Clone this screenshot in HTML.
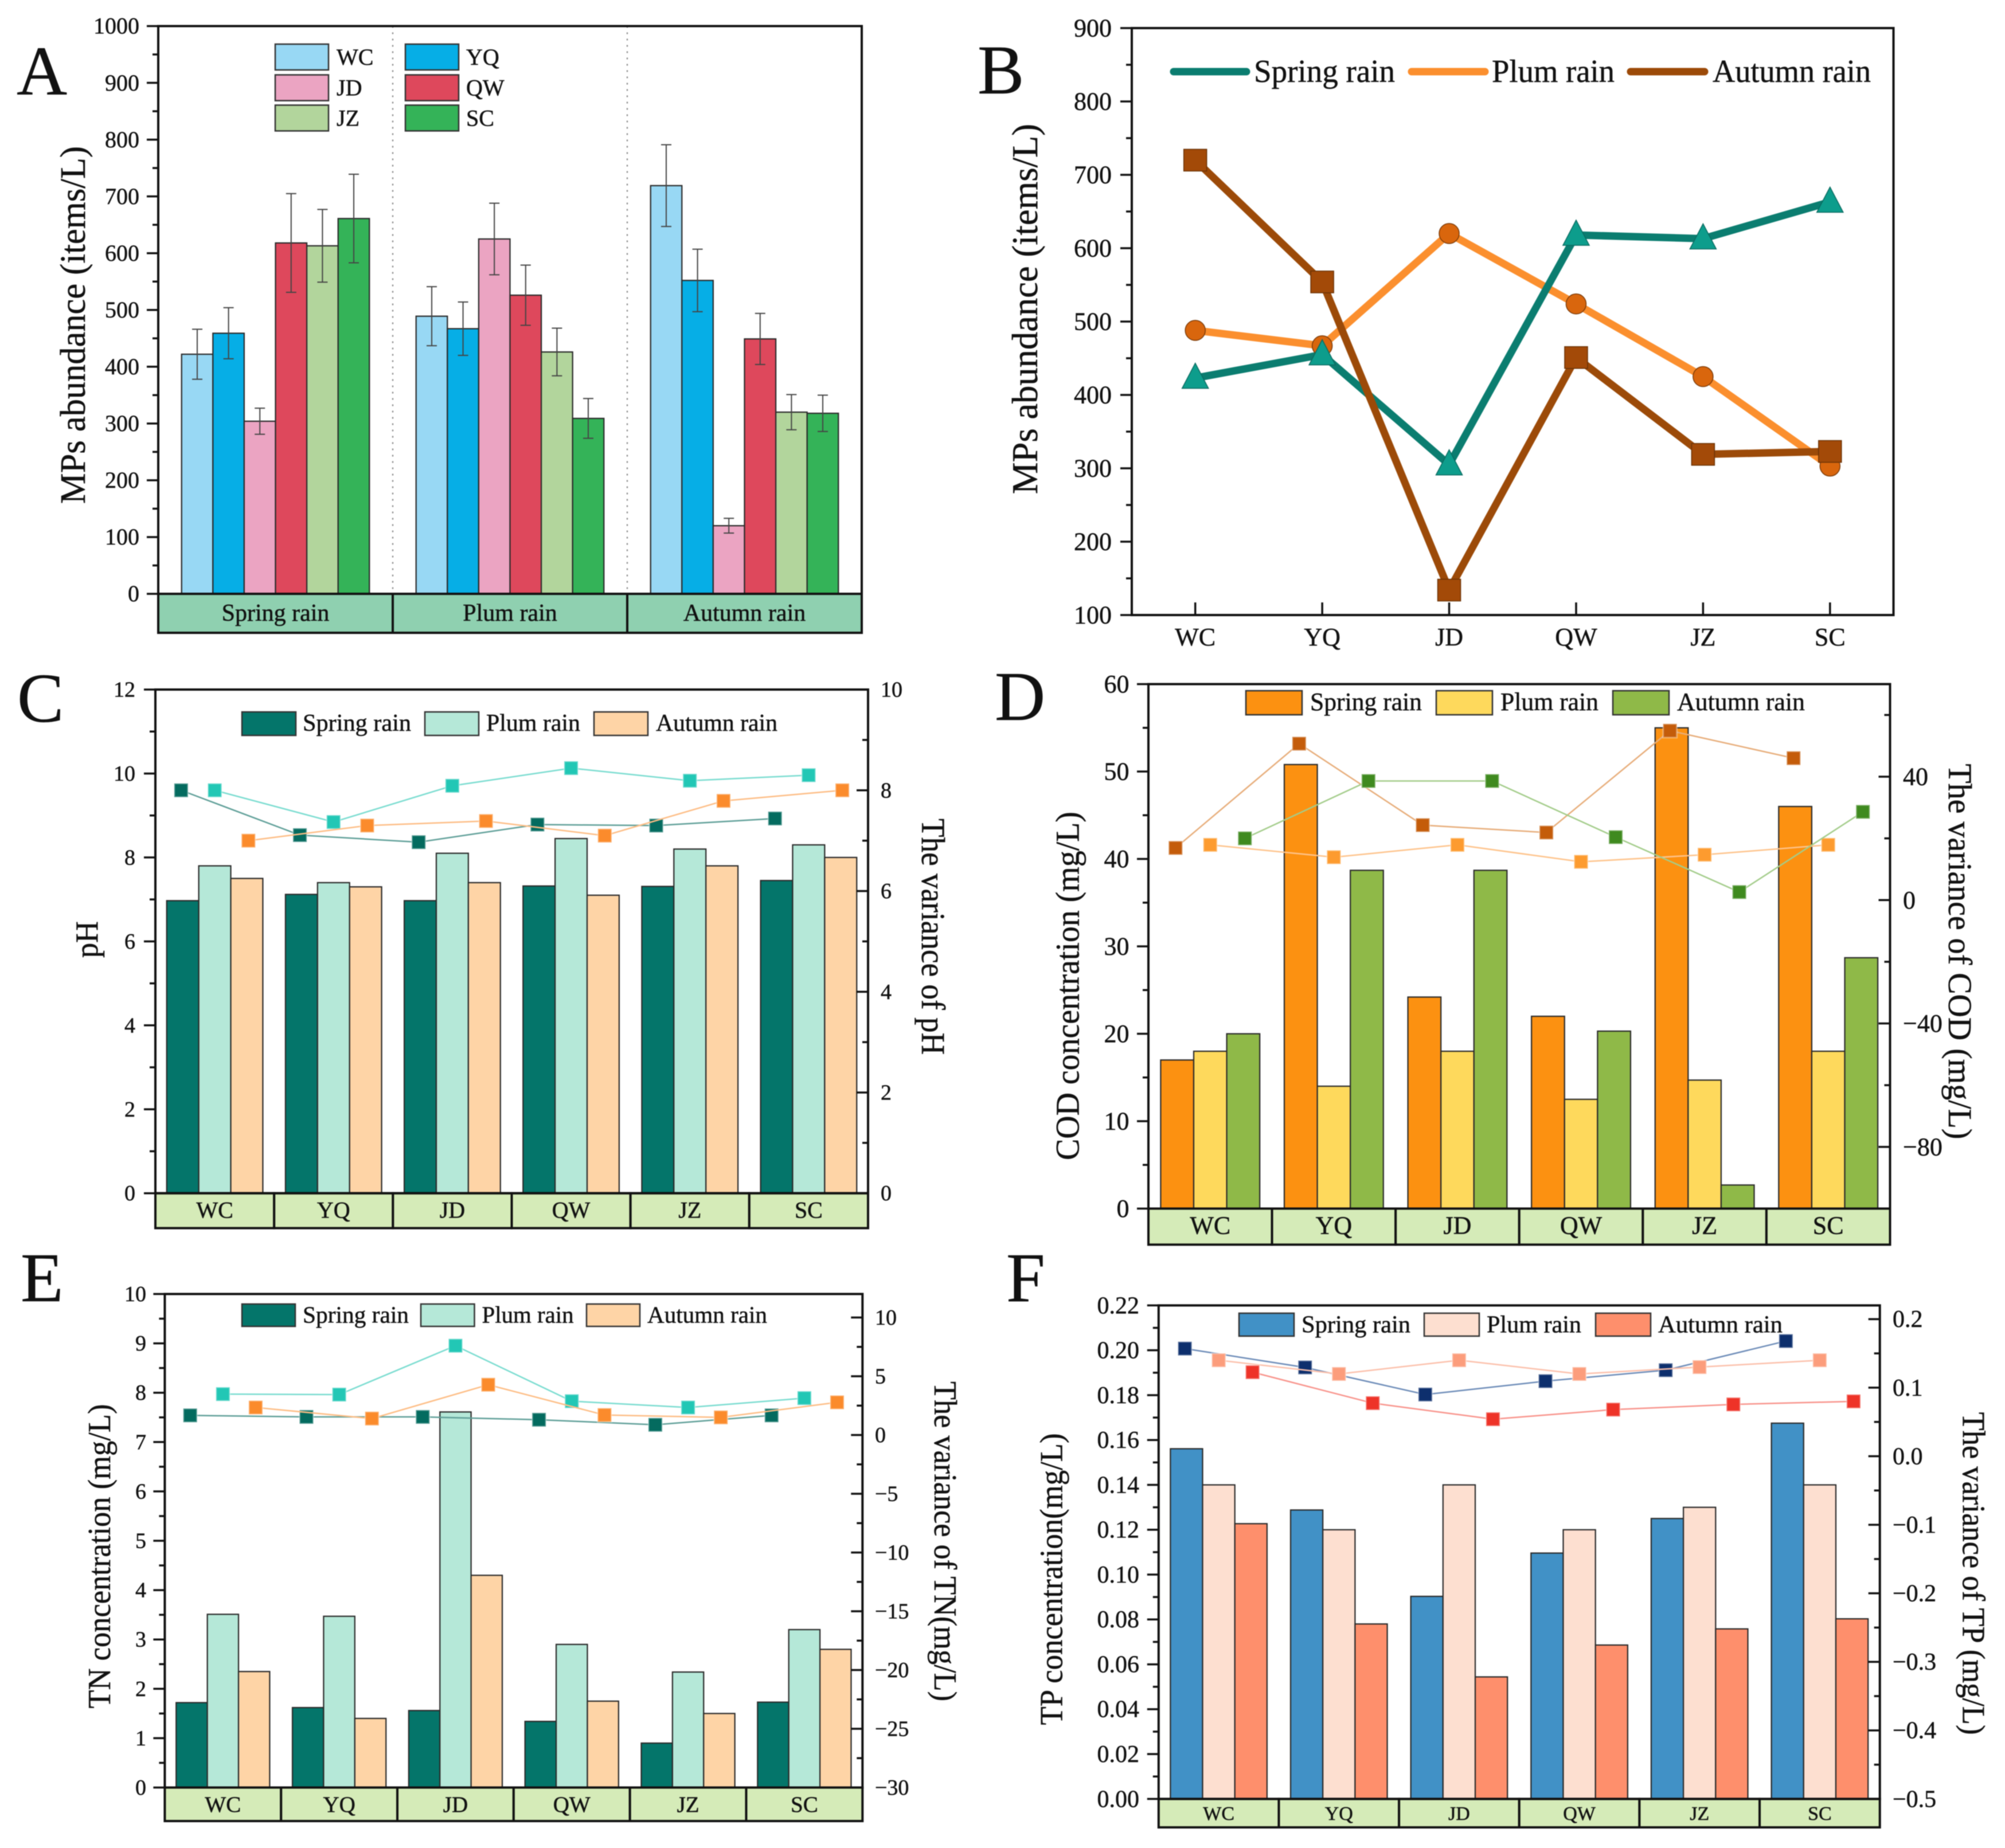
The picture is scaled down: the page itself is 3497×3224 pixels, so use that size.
<!DOCTYPE html>
<html lang="en">
<head>
<meta charset="utf-8">
<title>Rainfall microplastics and water quality panels</title>
<style>
html,body{margin:0;padding:0;background:#fff;}
svg{display:block;filter:blur(0.7px);}
text{font-family:"Liberation Serif",serif;fill:#111;stroke:#111;stroke-width:0.5px;}
</style>
</head>
<body>
<svg id="figure" xmlns="http://www.w3.org/2000/svg" width="3497" height="3224" viewBox="0 0 3497 3224">
<rect x="0" y="0" width="3497" height="3224" fill="#fff"/>
</svg>
<script>
/* ---------- shared categories ---------- */
const sites = ['WC','YQ','JD','QW','JZ','SC'];
const rains = ['Spring rain','Plum rain','Autumn rain'];

/* ---------- panel A data ---------- */
const aSpringMeans = [422,459,304,618,613,661];
const aSpringErrs  = [44,45,23,87,64,78];
const aPlumMeans   = [489,467,625,526,426,309];
const aPlumErrs    = [52,47,63,53,42,35];
const aAutumnMeans = [719,552,120,449,320,318];
const aAutumnErrs  = [72,55,13,45,31,32];
const aTicks = [0,100,200,300,400,500,600,700,800,900,1000];

/* ---------- panel B data ---------- */
const bSpring = [423,455,305,618,613,663];
const bPlum   = [488,467,620,524,425,303];
const bAutumn = [720,554,134,451,319,323];
const bTicks  = [100,200,300,400,500,600,700,800,900];

/* ---------- panel C data ---------- */
const cSpring = [6.97,7.12,6.97,7.32,7.31,7.45];
const cPlum   = [7.8,7.4,8.1,8.45,8.2,8.3];
const cAutumn = [7.5,7.3,7.4,7.1,7.8,8.0];
const cVarSpring = [8.0,7.11,6.97,7.32,7.3,7.44];
const cVarPlum   = [8.0,7.37,8.09,8.44,8.19,8.3];
const cVarAutumn = [7.0,7.3,7.39,7.1,7.79,8.0];
const cLeftTicks  = [0,2,4,6,8,10,12];
const cRightTicks = [0,2,4,6,8,10];

/* ---------- panel D data ---------- */
const dSpring = [17,50.8,24.2,22,55,46];
const dPlum   = [18,14,18,12.5,14.7,18];
const dAutumn = [20,38.7,38.7,20.3,2.7,28.7];
const dVarSpring = [16.9,50.7,24.3,21.9,54.9,46];
const dVarPlum   = [17.9,13.9,17.9,12.4,14.7,17.9];
const dVarAutumn = [20,38.6,38.6,20.4,2.6,28.6];
const dLeftTicks  = [0,10,20,30,40,50,60];
const dRightTicks = [-80,-40,0,40];

/* ---------- panel E data ---------- */
const eSpring = [1.72,1.62,1.56,1.34,0.9,1.73];
const ePlum   = [3.51,3.47,7.61,2.9,2.34,3.2];
const eAutumn = [2.35,1.4,4.3,1.75,1.5,2.8];
const eVarSpring = [1.67,1.54,1.54,1.3,0.87,1.67];
const eVarPlum   = [3.48,3.44,7.6,2.88,2.34,3.14];
const eVarAutumn = [2.34,1.4,4.28,1.7,1.5,2.78];
const eLeftTicks  = [0,1,2,3,4,5,6,7,8,9,10];
const eRightTicks = [-30,-25,-20,-15,-10,-5,0,5,10];

/* ---------- panel F data ---------- */
const fSpring = [0.1561,0.1288,0.0903,0.1096,0.125,0.1675];
const fPlum   = [0.14,0.12,0.14,0.12,0.13,0.14];
const fAutumn = [0.1227,0.078,0.0544,0.0686,0.0758,0.0803];
const fVarSpring = [0.157,0.1295,0.09,0.1095,0.1255,0.168];
const fVarPlum   = [0.14,0.12,0.14,0.12,0.13,0.14];
const fVarAutumn = [0.1226,0.0774,0.054,0.068,0.0756,0.08];
const fLeftTicks  = [0,0.02,0.04,0.06,0.08,0.10,0.12,0.14,0.16,0.18,0.20,0.22];
const fRightTicks = [-0.5,-0.4,-0.3,-0.2,-0.1,0,0.1,0.2];

/* ---------- helpers ---------- */
const NS = 'http://www.w3.org/2000/svg';
const root = document.getElementById('figure');
function mk(parent, tag, attrs, txt){
  const el = document.createElementNS(NS, tag);
  for (const k in attrs) el.setAttribute(k, attrs[k]);
  if (txt !== undefined) el.textContent = txt;
  parent.appendChild(el);
  return el;
}
function linear(d0, d1, p0, p1){ return v => p0 + (v - d0) * (p1 - p0) / (d1 - d0); }
function group(parent, name){
  const g = mk(parent, 'g', {});
  
  
  return g;
}
function label(parent, str, x, y, size, anchor, name, len){
  const a = {x:x, y:y, 'font-size':size, 'text-anchor':anchor};
  if (len) { a.textLength = len; a.lengthAdjust = 'spacingAndGlyphs'; }
  const el = mk(parent, 'text', a, str);
  
  
  return el;
}
function vTitle(parent, str, x, y, size, len, dir, name){
  const el = mk(parent, 'text', {
    x:0, y:0, 'font-size':size, 'text-anchor':'middle',
    textLength:len, lengthAdjust:'spacingAndGlyphs',
    transform:'translate(' + x + ',' + y + ') rotate(' + dir + ')'
  }, str);
  
  
  return el;
}
function panelLetter(str, x, y){
  const el = mk(root, 'text', {x:x, y:y, 'font-size':122}, str);
  
  
}
function tickLine(g, x1, y1, x2, y2, name){
  const el = mk(g, 'line', {x1:x1, y1:y1, x2:x2, y2:y2, stroke:'#111', 'stroke-width':3.5});
  
  
}
function fmt(v, digits){
  const s = digits ? Math.abs(v).toFixed(digits) : String(Math.abs(v));
  return (v < 0 ? '\u2212' : '') + s;
}
function axis(g, side, ticks, extraMinor, yScale, xPos, opts){
  const inward = side === 'right';
  const sign = -1;
  const minors = extraMinor.slice();
  for (let i = 0; i + 1 < ticks.length; i++) minors.push((ticks[i] + ticks[i + 1]) / 2);
  ticks.forEach(t => {
    tickLine(g, xPos, yScale(t), xPos + sign * 20, yScale(t), side + '-major-tick');
    label(g, fmt(t, opts.digits), opts.labelX, yScale(t) + opts.size * 0.33, opts.size, inward ? 'start' : 'end', side + '-tick-label');
  });
  minors.forEach(t => {
    tickLine(g, xPos, yScale(t), xPos + sign * 10, yScale(t), side + '-minor-tick');
  });
}
function legendBox(g, x, y, w, h, fill, name){
  const el = mk(g, 'rect', {x:x, y:y, width:w, height:h, fill:fill, stroke:'#333', 'stroke-width':2.5});
  
  
}
function frame(g, x, y, w, h){
  const el = mk(g, 'rect', {x:x, y:y, width:w, height:h, fill:'none', stroke:'#111', 'stroke-width':4});
  
  
}
function catBand(g, x0, x1, y0, y1, names, fill, size, base){
  const w = (x1 - x0) / names.length;
  names.forEach((n, i) => {
    const r = mk(g, 'rect', {x:x0 + i * w, y:y0, width:w, height:y1 - y0, fill:fill, stroke:'#111', 'stroke-width':4});
    
    
    label(g, n, x0 + (i + 0.5) * w, base, size, 'middle', 'category-label');
  });
}

/* ---------- panel A ---------- */
(function(){
  const g = group(root, 'panel-a');
  const L = 276, R = 1503, T = 45.5, B = 1036, CB = 1104;
  const y = linear(0, 1000, B, T);
  const colors = ['#98d8f4','#06aee6','#eba4c2','#de485c','#b2d59c','#34b358'];
  const means = [aSpringMeans, aPlumMeans, aAutumnMeans];
  const errs  = [aSpringErrs, aPlumErrs, aAutumnErrs];
  const bw = 54.6, band = (R - L) / 3;
  rains.forEach((r, gi) => {
    const c = L + (gi + 0.5) * band;
    sites.forEach((s, si) => {
      const x = c + (si - 3) * bw;
      const v = means[gi][si];
      const bar = mk(g, 'rect', {x:x, y:y(v), width:bw, height:B - y(v), fill:colors[si], stroke:'#2a2a2a', 'stroke-width':2.2});
      
      
    });
  });
  rains.forEach((r, gi) => {
    const c = L + (gi + 0.5) * band;
    sites.forEach((s, si) => {
      const cx = c + (si - 2.5) * bw;
      const v = means[gi][si], e = errs[gi][si];
      const path = 'M' + cx + ' ' + y(v + e) + 'V' + y(v - e) +
        'M' + (cx - 9) + ' ' + y(v + e) + 'H' + (cx + 9) +
        'M' + (cx - 9) + ' ' + y(v - e) + 'H' + (cx + 9);
      const eb = mk(g, 'path', {d:path, stroke:'#444', 'stroke-width':2, fill:'none'});
      
      
    });
  });
  for (let i = 1; i < 3; i++) {
    const d = mk(g, 'line', {x1:L + i * band, x2:L + i * band, y1:T, y2:B, stroke:'#888', 'stroke-width':2.2, 'stroke-dasharray':'3 8'});
    
    
  }
  catBand(g, L, R, B, CB, rains, '#8fd0b0', 42, 1083);
  frame(g, L, T, R - L, B - T);
  axis(g, 'left', aTicks, [], y, L, {labelX:243, size:40});
  vTitle(g, 'MPs abundance (items/L)', 148, 567, 62, 624, -90, 'y-axis-title');
  const rows = [77, 130.6, 183.4];
  sites.forEach((s, i) => {
    const col = i % 2, row = (i - col) / 2;
    legendBox(g, col ? 707 : 480, rows[row], 93, 45, colors[i], 'legend-swatch-' + s.toLowerCase());
    label(g, s, col ? 813 : 587, rows[row] + 36, 40, 'start', 'legend-label-' + s.toLowerCase());
  });
})();

/* ---------- panel B ---------- */
(function(){
  const g = group(root, 'panel-b');
  const L = 1974, R = 3302.5, T = 49, B = 1073;
  const y = linear(100, 900, B, T);
  const band = (R - L) / sites.length;
  const x = i => L + (i + 0.5) * band;
  const lineCols = ['#0b7d70','#fb8f2e','#9c4a08'];
  const series = [bSpring, bPlum, bAutumn];
  const order = [1, 0, 2];
  order.forEach(si => {
    const pts = series[si].map((v, i) => x(i) + ',' + y(v)).join(' ');
    const pl = mk(g, 'polyline', {points:pts, fill:'none', stroke:lineCols[si], 'stroke-width':13, 'stroke-linejoin':'round'});
    
    
  });
  bPlum.forEach((v, i) => {
    const m = mk(g, 'circle', {cx:x(i), cy:y(v), r:17.5, fill:'#d9660d', stroke:'#7a3a08', 'stroke-width':1.5});
    
    
  });
  bSpring.forEach((v, i) => {
    const cx = x(i), cy = y(v);
    const m = mk(g, 'polygon', {points:cx + ',' + (cy - 26) + ' ' + (cx - 23) + ',' + (cy + 18) + ' ' + (cx + 23) + ',' + (cy + 18), fill:'#0d9d8c', stroke:'#0a6a60', 'stroke-width':1.5});
    
    
  });
  bAutumn.forEach((v, i) => {
    const m = mk(g, 'rect', {x:x(i) - 20, y:y(v) - 19, width:40, height:38, fill:'#a34a08', stroke:'#6a3206', 'stroke-width':1.5});
    
    
  });
  frame(g, L, T, R - L, B - T);
  axis(g, 'left', bTicks, [], y, L, {labelX:1939, size:44});
  sites.forEach((s, i) => {
    tickLine(g, x(i), B, x(i), B - 22, 'x-tick');
    label(g, s, x(i), 1126, 44, 'middle', 'x-tick-label');
  });
  vTitle(g, 'MPs abundance (items/L)', 1809, 539, 64, 646, -90, 'y-axis-title');
  const lx = [[2047,2174,2187,246],[2462,2590,2602,214],[2844,2973,2987,276]];
  rains.forEach((r, i) => {
    const ll = mk(g, 'line', {x1:lx[i][0], x2:lx[i][1], y1:125, y2:125, stroke:lineCols[i], 'stroke-width':13, 'stroke-linecap':'round'});
    
    
    label(g, r, lx[i][2], 143, 56, 'start', 'legend-label-' + r.split(' ')[0].toLowerCase(), lx[i][3]);
  });
})();

/* ---------- combined bar + variance panels ---------- */
function drawCombo(c){
  const g = group(root, c.name);
  const yL = linear(c.leftDom[0], c.leftDom[1], c.B, c.T);
  const yR = linear(c.rightDom[0], c.rightDom[1], c.B, c.T);
  const band = (c.R - c.L) / sites.length;
  c.bars.forEach((arr, si) => {
    const rn = rains[si].split(' ')[0].toLowerCase();
    arr.forEach((v, i) => {
      const x = c.L + (i + 0.5) * band + (si - 1.5) * c.bw;
      const bar = mk(g, 'rect', {x:x, y:yL(v), width:c.bw, height:c.B - yL(v), fill:c.barCols[si], stroke:'#2a2a2a', 'stroke-width':2.2});
      
      
    });
  });
  c.vars.forEach((arr, si) => {
    const rn = rains[si].split(' ')[0].toLowerCase();
    const px = i => c.L + (i + 0.5) * band + (si - 1) * c.bw * 1.05;
    const pts = arr.map((v, i) => px(i) + ',' + yR(v)).join(' ');
    const pl = mk(g, 'polyline', {points:pts, fill:'none', stroke:c.lineCols[si], 'stroke-width':2.5});
    
    
    arr.forEach((v, i) => {
      const m = mk(g, 'rect', {x:px(i) - 12, y:yR(v) - 12, width:24, height:24, fill:c.markCols[si], stroke:'#fff', 'stroke-opacity':0.35, 'stroke-width':3});
      
      
    });
  });
  catBand(g, c.L, c.R, c.B, c.CB, sites, '#d5ebb8', c.catSize, c.catBase);
  frame(g, c.L, c.T, c.R - c.L, c.B - c.T);
  axis(g, 'left', c.leftTicks, [], yL, c.L, {labelX:c.leftLabelX, size:c.tickSize, digits:c.leftDigits});
  axis(g, 'right', c.rightTicks, c.rightExtra, yR, c.R, {labelX:c.rightLabelX, size:c.tickSize, digits:c.rightDigits});
  vTitle(g, c.leftTitle[0], c.leftTitle[1], c.leftTitle[2], c.leftTitle[3], c.leftTitle[4], -90, 'left-axis-title');
  vTitle(g, c.rightTitle[0], c.rightTitle[1], c.rightTitle[2], c.rightTitle[3], c.rightTitle[4], 90, 'right-axis-title');
  rains.forEach((r, i) => {
    const l = c.legend[i], rn = r.split(' ')[0].toLowerCase();
    legendBox(g, l[0], c.legendY, l[1], c.legendH, c.barCols[i], 'legend-swatch-' + rn);
    label(g, r, l[2], c.legendBase, c.legendSize, 'start', 'legend-label-' + rn, l[3]);
  });
}

drawCombo({
  name:'panel-c', L:271, R:1514, T:1203, B:2081.7, CB:2142.6, bw:55.9,
  leftDom:[0,12], rightDom:[0,10], leftTicks:cLeftTicks, rightTicks:cRightTicks, rightExtra:[],
  bars:[cSpring,cPlum,cAutumn], vars:[cVarSpring,cVarPlum,cVarAutumn],
  barCols:['#04756a','#b5e8d8','#fed4a6'], lineCols:['#5f9f98','#7adcd0','#fdbd85'], markCols:['#046b5f','#22c7b5','#fb8b2c'],
  catSize:40, catBase:2124.5, tickSize:38, leftLabelX:236, rightLabelX:1536,
  leftTitle:['pH',170,1639,56,64], rightTitle:['The variance of pH',1608,1634,58,412],
  legend:[[422,94,528,189],[741,94,848,164],[1036,94,1144,212]], legendY:1242, legendH:41, legendBase:1275, legendSize:42
});
drawCombo({
  name:'panel-d', L:2003, R:3296.5, T:1193.5, B:2108.5, CB:2171.4, bw:57.6,
  leftDom:[0,60], rightDom:[-100,70], leftTicks:dLeftTicks, rightTicks:dRightTicks, rightExtra:[-100,60],
  bars:[dSpring,dPlum,dAutumn], vars:[dVarSpring,dVarPlum,dVarAutumn],
  barCols:['#fc9111','#fed95c','#8fb948'], lineCols:['#e7ad7a','#fec38b','#a3cc8a'], markCols:['#c45c0a','#fd9b2f','#3f8a1f'],
  catSize:44, catBase:2152.7, tickSize:44, leftLabelX:1969.5, rightLabelX:3319,
  leftTitle:['COD concentration (mg/L)',1881.5,1720,58,608], rightTitle:['The variance of COD (mg/L)',3399,1660,58,655],
  legend:[[2173,98,2285,195],[2505,98,2617,171],[2813,98,2925,223]], legendY:1205, legendH:42, legendBase:1239, legendSize:44
});
drawCombo({
  name:'panel-e', L:287.4, R:1504.3, T:2257.5, B:3118.5, CB:3177, bw:54.4,
  leftDom:[0,10], rightDom:[-30,12], leftTicks:eLeftTicks, rightTicks:eRightTicks, rightExtra:[],
  bars:[eSpring,ePlum,eAutumn], vars:[eVarSpring,eVarPlum,eVarAutumn],
  barCols:['#04756a','#b5e8d8','#fed4a6'], lineCols:['#5f9f98','#7adcd0','#fdbd85'], markCols:['#046b5f','#22c7b5','#fb8b2c'],
  catSize:39, catBase:3161, tickSize:38, leftLabelX:255, rightLabelX:1526,
  leftTitle:['TN concentration (mg/L)',192,2715,56,531], rightTitle:['The variance of TN(mg/L)',1630,2689,56,558],
  legend:[[422,93,528,185],[734,93.5,840.5,160],[1023,93,1129,209]], legendY:2275, legendH:39, legendBase:2307.5, legendSize:41
});
drawCombo({
  name:'panel-f', L:2020.8, R:3278.7, T:2277.4, B:3138.4, CB:3188, bw:56.2,
  leftDom:[0,0.22], rightDom:[-0.5,0.22], leftTicks:fLeftTicks, rightTicks:fRightTicks, rightExtra:[],
  bars:[fSpring,fPlum,fAutumn], vars:[fVarSpring,fVarPlum,fVarAutumn],
  barCols:['#4191c6','#fddfd0','#fe8f6c'], lineCols:['#6d8cb8','#fcc0ab','#f8938b'], markCols:['#0d2f6d','#fc9d7c','#ee3328'],
  catSize:34, catBase:3175, tickSize:42, leftDigits:2, rightDigits:1, leftLabelX:1987, rightLabelX:3301,
  leftTitle:['TP concentration(mg/L)',1852.5,2755,56,509], rightTitle:['The variance of TP (mg/L)',3423.5,2745,56,563],
  legend:[[2161,96,2270,190],[2484,96,2593,165],[2783,96,2892,217]], legendY:2291, legendH:40, legendBase:2324.7, legendSize:42
});

/* ---------- panel letters ---------- */
panelLetter('A', 29, 165);
panelLetter('B', 1705, 163);
panelLetter('C', 30, 1259);
panelLetter('D', 1735, 1256);
panelLetter('E', 36, 2270);
panelLetter('F', 1755, 2270);
</script>
</body>
</html>
